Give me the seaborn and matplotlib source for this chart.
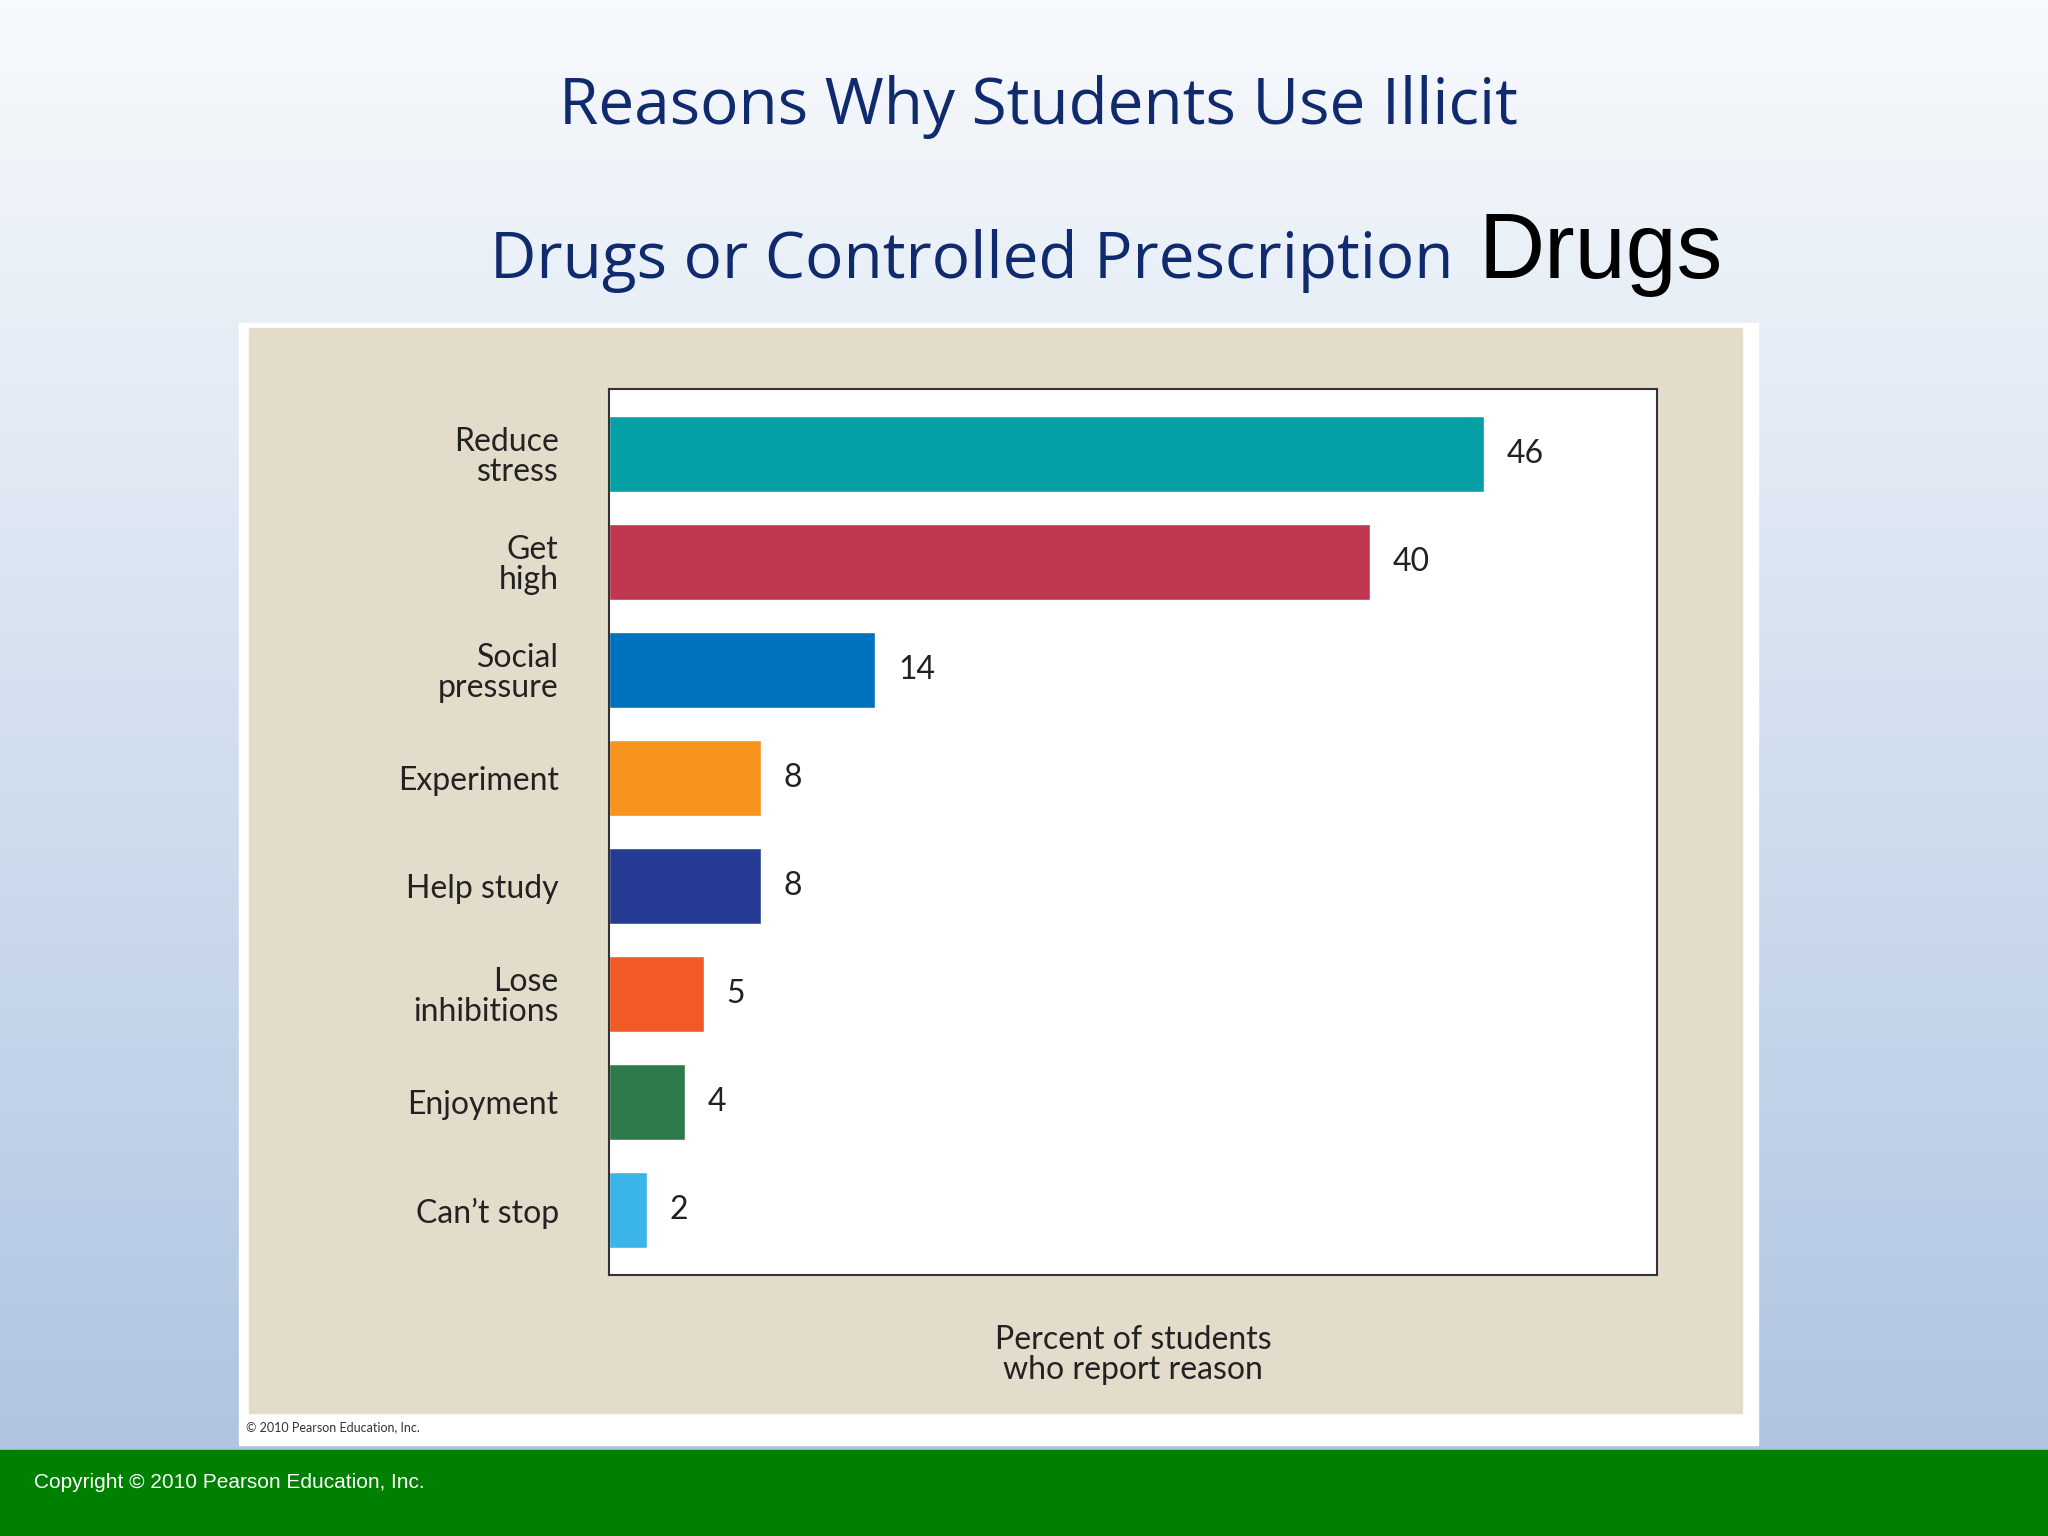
import numpy as np
import pandas as pd
import matplotlib.pyplot as plt
import matplotlib.patches as mpatches
import seaborn as sns

reasons = ["Reduce\nstress", "Get\nhigh", "Social\npressure", "Experiment",
           "Help study", "Lose\ninhibitions", "Enjoyment", "Can\u2019t stop"]
percents = [46, 40, 14, 8, 8, 5, 4, 2]
bar_colors = ["#05a0a5", "#c0384f", "#0071bc", "#f7941e",
              "#263c94", "#f15a24", "#2d7a4a", "#3bb4e8"]

df = pd.DataFrame({"reason": reasons, "percent": percents})

sns.set_style("white")
plt.rcParams['font.family'] = ['Lato', 'DejaVu Sans']

W, H = 1568, 1176
fig = plt.figure(figsize=(20.48, 15.36), dpi=100)

# slide background gradient
bg = fig.add_axes([0, 0, 1, 1], zorder=-10)
grad = np.linspace(0, 1, 256).reshape(-1, 1)
top = np.array([0.97, 0.98, 0.99])
bot = np.array([0.67, 0.76, 0.88])
img = top + grad[..., None] * (bot - top)
bg.imshow(img, aspect='auto', extent=[0, 1, 0, 1])
bg.set_axis_off()

def box(x0, y0, x1, y1, color):
    fig.patches.append(mpatches.Rectangle((x0 / W, 1 - y1 / H), (x1 - x0) / W, (y1 - y0) / H,
                                          transform=fig.transFigure, color=color, zorder=-5))

box(183, 247, 1346, 1106, "white")
box(191, 251, 1334, 1082, "#e3dccb")
box(0, 1110, W, H, "#008000")

# title
navy = "#102a6e"
fig.text(795 / W, 1 - 82 / H, "Reasons Why Students Use Illicit", ha='center', va='center',
         fontsize=46, color=navy, family=['Open Sans', 'DejaVu Sans'])
fig.text(1113 / W, 1 - 213 / H, "Drugs or Controlled Prescription", ha='right', va='baseline',
         fontsize=46, color=navy, family=['Open Sans', 'DejaVu Sans'])
fig.text(1132 / W, 1 - 213 / H, "Drugs", ha='left', va='baseline',
         fontsize=66, color="black", family=['Liberation Sans', 'DejaVu Sans'])

# chart
ax = fig.add_axes([466 / W, 1 - 976 / H, (1269 - 466) / W, (976 - 298) / H])
sns.barplot(data=df, y="reason", x="percent", hue="reason", palette=bar_colors,
            orient="h", width=0.7, legend=False, ax=ax, saturation=1)
ax.set_xlim(0, 55.1)
ax.set_ylim(7.6, -0.6)
ax.set_facecolor("white")
for s in ax.spines.values():
    s.set_color("#333333")
    s.set_linewidth(1.5)
ax.set_xticks([])
ax.set_ylabel("")
ax.set_xlabel("Percent of students\nwho report reason", fontsize=23, labelpad=36,
              linespacing=1.0, color="#222222")
ax.tick_params(axis='y', length=0, pad=36, labelsize=23, labelcolor="#222222")
for lab in ax.get_yticklabels():
    lab.set_linespacing(1.0)
for i, v in enumerate(percents):
    ax.text(v + 1.2, i, str(v), va='center', ha='left', fontsize=23, color="#222222")

fig.text(188 / W, 1 - 1093 / H, "\u00a9 2010 Pearson Education, Inc.", fontsize=9,
         va='center', color="#333333")
fig.text(26 / W, 1 - 1135 / H, "Copyright \u00a9 2010 Pearson Education, Inc.", fontsize=15,
         va='center', color="white", family=['Liberation Sans', 'DejaVu Sans'])

fig.savefig("out.png", dpi=100)
